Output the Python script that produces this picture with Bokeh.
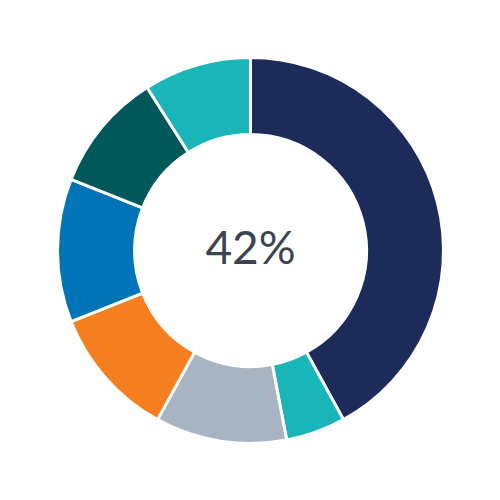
import numpy as np
from bokeh.plotting import figure
from bokeh.models import ColumnDataSource
from bokeh.core.properties import value
from bokeh.embed import file_html
from bokeh.resources import INLINE

categories = ["A", "B", "C", "D", "E", "F", "G"]
shares = [42, 5, 11, 11, 12, 10, 9]
colors = ["#1c2b59", "#1ab5b8", "#a9b4c3", "#f47e20", "#0074b6", "#00585a", "#1ab5b8"]
center_label = "42%"

vals = np.array(shares, dtype=float)
frac = vals / vals.sum()
cum = np.concatenate([[0], np.cumsum(frac)])
start = np.pi / 2 - cum[1:] * 2 * np.pi
end = np.pi / 2 - cum[:-1] * 2 * np.pi

src = ColumnDataSource(dict(cat=categories, start=start, end=end, color=colors))

W = 484
p = figure(width=W, height=W, x_range=(-250, W - 250), y_range=(250 - W, 250),
           output_backend="svg", toolbar_location=None, min_border=0)
p.axis.visible = False
p.grid.visible = False
p.outline_line_color = None
p.background_fill_color = "white"

p.annular_wedge(x=0, y=0, inner_radius=116, outer_radius=193, start_angle="start", end_angle="end",
                fill_color="color", line_color="white", line_width=3, source=src)

p.text(x=[0], y=[4], text=[center_label], text_align="center", text_baseline="middle",
       text_font=value("Lato"), text_font_size="46px", text_color="#3d4450")

open("out.html", "w").write(file_html(p, INLINE))
